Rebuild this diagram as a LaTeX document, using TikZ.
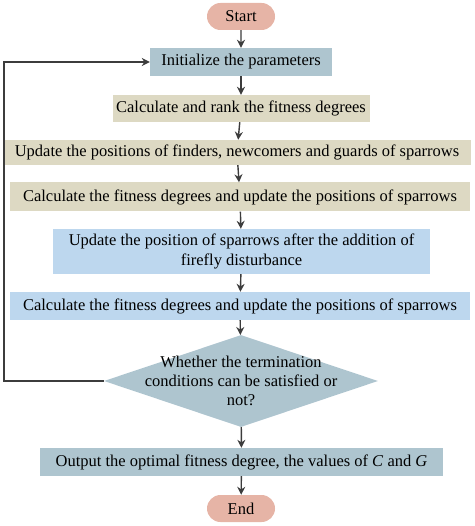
\documentclass[tikz,border=0pt]{standalone}
\usepackage{fontspec}
\setmainfont{Liberation Serif}
\usetikzlibrary{arrows.meta,shapes}
\definecolor{startc}{HTML}{E6B4A6}
\definecolor{greyblue}{HTML}{AEC5CF}
\definecolor{beige}{HTML}{DDD9C3}
\definecolor{lightblue}{HTML}{BDD7EE}
\definecolor{linec}{HTML}{3C3C3C}
\tikzset{
	terminal/.style={rounded rectangle, fill=startc, minimum width=68pt, minimum height=27pt, inner sep=0pt},
	procbox/.style={rectangle, inner sep=0pt, align=center},
	flow/.style={draw=linec, line width=1.4pt, -{Stealth[length=8pt, width=8pt]}}
}

\begin{document}
\begin{tikzpicture}[x=1pt, y=-1pt, font=\fontsize{16.5}{20.5}\selectfont]
	\useasboundingbox (0,0) rectangle (474,526);
	\node [terminal] (start) at (241,16.5) {Start};
	\node [procbox, fill=greyblue, minimum width=182pt, minimum height=28pt] (init) at (241,62) {Initialize the parameters};
	\node [procbox, fill=beige, minimum width=257pt, minimum height=27pt] (rank) at (241,108.5) {Calculate and rank the fitness degrees};
	\node [procbox, fill=beige, minimum width=468pt, minimum height=25pt] (update) at (237,152.5) {Update the positions of finders, newcomers and guards of sparrows};
	\node [procbox, fill=beige, minimum width=460pt, minimum height=29pt] (calcA) at (240,197) {Calculate the fitness degrees and update the positions of sparrows};
	\node [procbox, fill=lightblue, minimum width=377pt, minimum height=45pt] (firefly) at (241.5,251.5) {Update the position of sparrows after the addition of\\firefly disturbance};
	\node [procbox, fill=lightblue, minimum width=460pt, minimum height=28pt] (calcB) at (240,306) {Calculate the fitness degrees and update the positions of sparrows};
	\node [diamond, fill=greyblue, inner sep=0pt, minimum width=274pt, minimum height=92pt] (check) at (241,381) {};
	\node [align=center, font=\fontsize{16.5}{19}\selectfont] (checktxt) at (check) {Whether the termination\\conditions can be satisfied or\\not?};
	\node [procbox, fill=greyblue, minimum width=403pt, minimum height=28pt] (output) at (241.5,462) {Output the optimal fitness degree, the values of \textit{C} and \textit{G}};
	\node [terminal] (end) at (241,508.5) {End};
	\coordinate (loopA) at (4,381);
	\coordinate (loopB) at (4,62);
	\foreach \from/\to in {
		start/init, init/rank, rank/update, update/calcA, calcA/firefly,
		firefly/calcB, calcB/check, check/output, output/end}
	\draw [flow] (\from) to (\to);
	\draw [flow] (check.west) -- (loopA) -- (loopB) -- (init.west);
\end{tikzpicture}
\end{document}
